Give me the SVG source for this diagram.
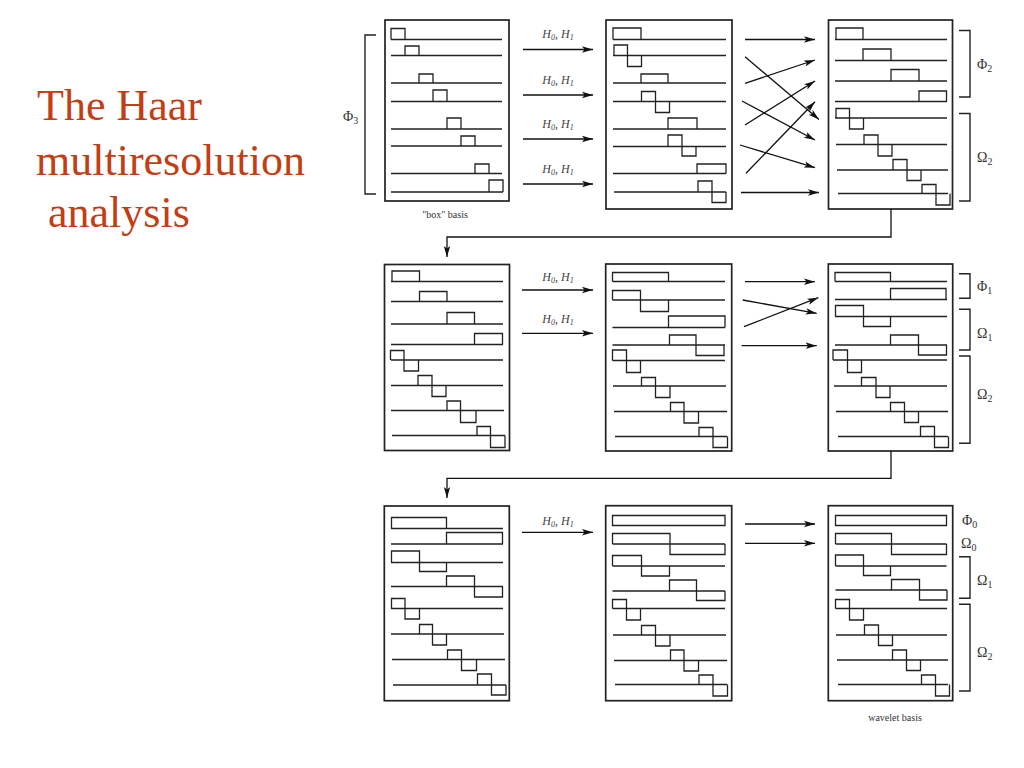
<svg xmlns="http://www.w3.org/2000/svg" width="1024" height="768" viewBox="0 0 1024 768">
<defs>
<marker id="ah" markerUnits="userSpaceOnUse" markerWidth="12" markerHeight="8" refX="11" refY="4" orient="auto">
<path d="M0,0.8 L11,4 L0,7.2 L2.5,4 Z" fill="#111"/>
</marker>
<style>
.frame{fill:#fff;stroke:#222;stroke-width:1.7}
.fn{fill:none;stroke:#222;stroke-width:1.3}
.arr{fill:none;stroke:#111;stroke-width:1.3;marker-end:url(#ah)}
.br{fill:none;stroke:#222;stroke-width:1.4}
.hl{font-family:"Liberation Serif",serif;font-style:italic;font-size:12px;fill:#444;text-anchor:middle}
.sl{font-family:"Liberation Serif",serif;font-size:14px;fill:#333}
.cap{font-family:"Liberation Serif",serif;font-size:10px;fill:#333;text-anchor:middle}
.title{font-family:"Liberation Serif",serif;font-size:44px;fill:#C23E14}
</style>
</defs>
<rect width="1024" height="768" fill="#fff"/>

<g id="title">
<text class="title" x="37" y="120">The Haar</text>
<text class="title" x="36" y="175">multiresolution</text>
<text class="title" x="48" y="227">analysis</text>
</g>

<g id="r1c1">
<rect class="frame" x="385" y="20" width="124" height="181"/>
<path class="fn" d="M391 39.5H502M391 39.5V28.5H405V39.5M391 55.5H502M405 55.5V46H419V55.5M391 83H502M419 83V74H433V83M391 101.5H502M433 101.5V90H447V101.5M391 129H502M447 129V118H461V129M391 146H502M461 146V136H475V146M391 173.5H502M475 173.5V164H489V173.5M391 192H503M489 192V180H503V192"/>
<path class="br" d="M376 35H365V194H376"/>
<text class="sl" x="343" y="121">Φ<tspan font-size="10" dy="3">3</tspan></text>
<text class="cap" x="445" y="218">"box" basis</text>
</g>

<g id="r1c2">
<rect class="frame" x="606" y="20" width="126" height="189"/>
<path class="fn" d="M613 39.5H726M613 39.5V28H641V39.5M613 55.5H726M614 55.5V45H627.5V66.5H641.5V55.5M613 83H726M641 83V74H668V83M613 101.5H726M641.5 101.5V91.5H655.5V112.5H669.5V101.5M613 129H726M668 129V118H697V129M613 146.5H726M668 146.5V135H682V156H696V146.5M613 173.5H726M697 173.5V164H726V173.5M614 192H726M698 192V181H712V202.5H726V192"/>
</g>

<g id="r1c3">
<rect class="frame" x="828.5" y="20" width="124" height="189"/>
<path class="fn" d="M835 39.5H947M836 39.5V28H863V39.5M835 60.5H947M863 60.5V49H891V60.5M835 81H947M891 81V69.5H919V81M835 101.5H947M919 101.5V91H946.5V101.5M835 118H947M836 118V108.5H849.5V129H863.5V118M836 144.5H947M864 144.5V135H878V156H892V144.5M837 170H948M893 170V159.5H907V180.5H921V170M838 193.5H948M922 193.5V184.5H936V205H950V193.5"/>
<path class="br" d="M959 30.5H970V97H959M959 113.5H970V201H959"/>
<text class="sl" x="977" y="69">Φ<tspan font-size="10" dy="3">2</tspan></text>
<text class="sl" x="977" y="162">Ω<tspan font-size="10" dy="3">2</tspan></text>
</g>

<g id="r2c1">
<rect class="frame" x="384.5" y="264.5" width="125" height="186"/>
<path class="fn" d="M391 281.5H503M392 281.5V271H419.5V281.5M391 301.5H503M419.5 301.5V291.5H447V301.5M391 324H503M447 324V312.5H474.5V324M391 344.5H503M474.5 344.5V333.5H502.5V344.5M391 360H503M390.5 360V350.5H404V371H418.5V360M391 385.5H503M418 385.5V375.5H432V396.5H446V385.5M391 410.5H504M447 410.5V401H460.5V422.5H476V410.5M392 435.5H505M477 435.5V426.5H490.5V447.5H505V435.5"/>
</g>

<g id="r2c2">
<rect class="frame" x="605.7" y="264" width="126" height="187"/>
<path class="fn" d="M612.5 281.5H725M612.5 281.5V272.5H668.5V281.5M612.5 300H725M612.5 300V290.5H640.5V311.5H668.5V300M612.5 327.5H725M668.5 327.5V316H725V327.5M612.5 345H725M669.5 345V335H696V355.5H724V345M612.5 360.5H725M612.5 360.5V350H626.5V372.5H640.5V360.5M613 386H726M641.5 386V377.5H655.5V397.5H670V386M614 411.5H727M670.5 411.5V402.5H684V423H698.5V411.5M615 436.5H727M699 436.5V427.5H713V447.5H727.5V436.5"/>
</g>

<g id="r2c3">
<rect class="frame" x="828.3" y="264" width="124.4" height="187"/>
<path class="fn" d="M835 281.5H947M835 281.5V272.5H890.5V281.5M835 299.5H947M890.5 299.5V288.5H946V299.5M835 316.5H947M835.5 316.5V305.5H863.5V326.5H890.5V316.5M835 345H947M890.5 345V335H918.5V355H946.5V345M833 360H947M833 360V350H847.5V372.5H861.5V360M834 386H947M861.5 386V377.5H876V397.5H890V386M836 411.5H948M890.5 411.5V402.5H904.5V422.5H918.5V411.5M838 436.5H948M920.5 436.5V426.5H934.5V447.5H948.5V436.5"/>
<path class="br" d="M959 273.7H970V298.3H959M959 309.3H970V350H959M959 356H970V443.3H959"/>
<text class="sl" x="977" y="291">Φ<tspan font-size="10" dy="3">1</tspan></text>
<text class="sl" x="977" y="338">Ω<tspan font-size="10" dy="3">1</tspan></text>
<text class="sl" x="977" y="399">Ω<tspan font-size="10" dy="3">2</tspan></text>
</g>

<g id="r3c1">
<rect class="frame" x="384.3" y="506" width="125" height="194.7"/>
<path class="fn" d="M391 528.5H503M391.5 528.5V517.5H446.5V528.5M391 544H503M446.5 544V532.5H502.5V544M391 562.5H503M391.5 562.5V551H419.5V571.5H446.5V562.5M391 586.5H503M446.5 586.5V576H474.5V597H502.5V586.5M391 608.5H503M391.5 608.5V598.5H405V619H419.5V608.5M391 634H504M419.5 634V624.5H432.5V645H446.5V634M392 659.5H505M447.5 659.5V650H461.5V670.5H476.5V659.5M393 685H506M477.5 685V674H491.5V695H506V685"/>
</g>

<g id="r3c2">
<rect class="frame" x="605.7" y="505.7" width="126" height="195"/>
<path class="fn" d="M612.5 515.5H725V525.5H612.5ZM612.5 544H725M612.5 544V533.5H670V554.5H725V544M612.5 566H725M612.5 566V555.5H641.5V576H669.5V566M612.5 591H725M669.5 591V580H696.5V600.5H725V591M612.5 608.5H725M612.5 608.5V599.5H626.5V620H640.5V608.5M613 635H726M641.5 635V625.5H655.5V646H670V635M614 660.5H727M670.5 660.5V650H684V671H698.5V660.5M615 684.5H727M699 684.5V675H713V696H727.5V684.5"/>
</g>

<g id="r3c3">
<rect class="frame" x="828.3" y="505.7" width="124.4" height="195"/>
<path class="fn" d="M835.5 515.5H946.5V525.5H835.5ZM835.5 544H946.5M835.5 544V533.5H891.5V554.5H946.5V544M835.5 566H946.5M835.5 566V555H863.5V575.5H890.5V566M835.5 590H947M891.5 590V579.5H919.5V600H947V590M835.5 608.5H947M835.5 608.5V599.5H849.5V620H863.5V608.5M836 635H947M864.5 635V625H878.5V645.5H892.5V635M837 660H948M892.5 660V650H906.5V670.5H920.5V660M838 684.5H948M921.5 684.5V675H935.5V696H949.5V684.5"/>
<path class="br" d="M959 556.7H970V598.3H959M959 604.3H970V691H959"/>
<text class="sl" x="962" y="525">Φ<tspan font-size="10" dy="3">0</tspan></text>
<text class="sl" x="961" y="548">Ω<tspan font-size="10" dy="3">0</tspan></text>
<text class="sl" x="977" y="585">Ω<tspan font-size="10" dy="3">1</tspan></text>
<text class="sl" x="977" y="657">Ω<tspan font-size="10" dy="3">2</tspan></text>
<text class="cap" x="895" y="721">wavelet basis</text>
</g>

<g id="connectors">
<line class="arr" x1="523" y1="49.5" x2="593" y2="49.5"/>
<line class="arr" x1="523" y1="95" x2="593" y2="95"/>
<line class="arr" x1="523" y1="139" x2="593" y2="139"/>
<line class="arr" x1="523" y1="184" x2="593" y2="184"/>
<line class="arr" x1="745" y1="39.5" x2="815" y2="39.5"/>
<line class="arr" x1="745" y1="56.7" x2="819" y2="119.5"/>
<line class="arr" x1="745" y1="83.3" x2="815" y2="60"/>
<line class="arr" x1="742" y1="101" x2="815" y2="140"/>
<line class="arr" x1="745" y1="125" x2="815" y2="81"/>
<line class="arr" x1="740" y1="145" x2="815" y2="167.7"/>
<line class="arr" x1="746" y1="173.3" x2="815" y2="101.7"/>
<line class="arr" x1="741" y1="192.5" x2="819" y2="192.5"/>
<path class="arr" d="M891 209V237H447V257"/>
<line class="arr" x1="522" y1="290" x2="593" y2="290"/>
<line class="arr" x1="522" y1="333.3" x2="593" y2="333.3"/>
<line class="arr" x1="745" y1="281.7" x2="815" y2="281.7"/>
<line class="arr" x1="742.7" y1="300" x2="816.7" y2="313.3"/>
<line class="arr" x1="744" y1="326.7" x2="818.3" y2="297.7"/>
<line class="arr" x1="741.7" y1="345.7" x2="816.7" y2="345.7"/>
<path class="arr" d="M891 451V478.3H447V498"/>
<line class="arr" x1="522" y1="532.3" x2="593" y2="532.3"/>
<line class="arr" x1="745" y1="524" x2="815" y2="524"/>
<line class="arr" x1="745" y1="543.3" x2="815" y2="543.3"/>
<text class="hl" x="558" y="38">H<tspan font-size="8" dy="2">0</tspan><tspan dy="-2">, H</tspan><tspan font-size="8" dy="2">1</tspan></text>
<text class="hl" x="558" y="84">H<tspan font-size="8" dy="2">0</tspan><tspan dy="-2">, H</tspan><tspan font-size="8" dy="2">1</tspan></text>
<text class="hl" x="558" y="128">H<tspan font-size="8" dy="2">0</tspan><tspan dy="-2">, H</tspan><tspan font-size="8" dy="2">1</tspan></text>
<text class="hl" x="558" y="173">H<tspan font-size="8" dy="2">0</tspan><tspan dy="-2">, H</tspan><tspan font-size="8" dy="2">1</tspan></text>
<text class="hl" x="558" y="281">H<tspan font-size="8" dy="2">0</tspan><tspan dy="-2">, H</tspan><tspan font-size="8" dy="2">1</tspan></text>
<text class="hl" x="558" y="323">H<tspan font-size="8" dy="2">0</tspan><tspan dy="-2">, H</tspan><tspan font-size="8" dy="2">1</tspan></text>
<text class="hl" x="558" y="525">H<tspan font-size="8" dy="2">0</tspan><tspan dy="-2">, H</tspan><tspan font-size="8" dy="2">1</tspan></text>
</g>
</svg>
